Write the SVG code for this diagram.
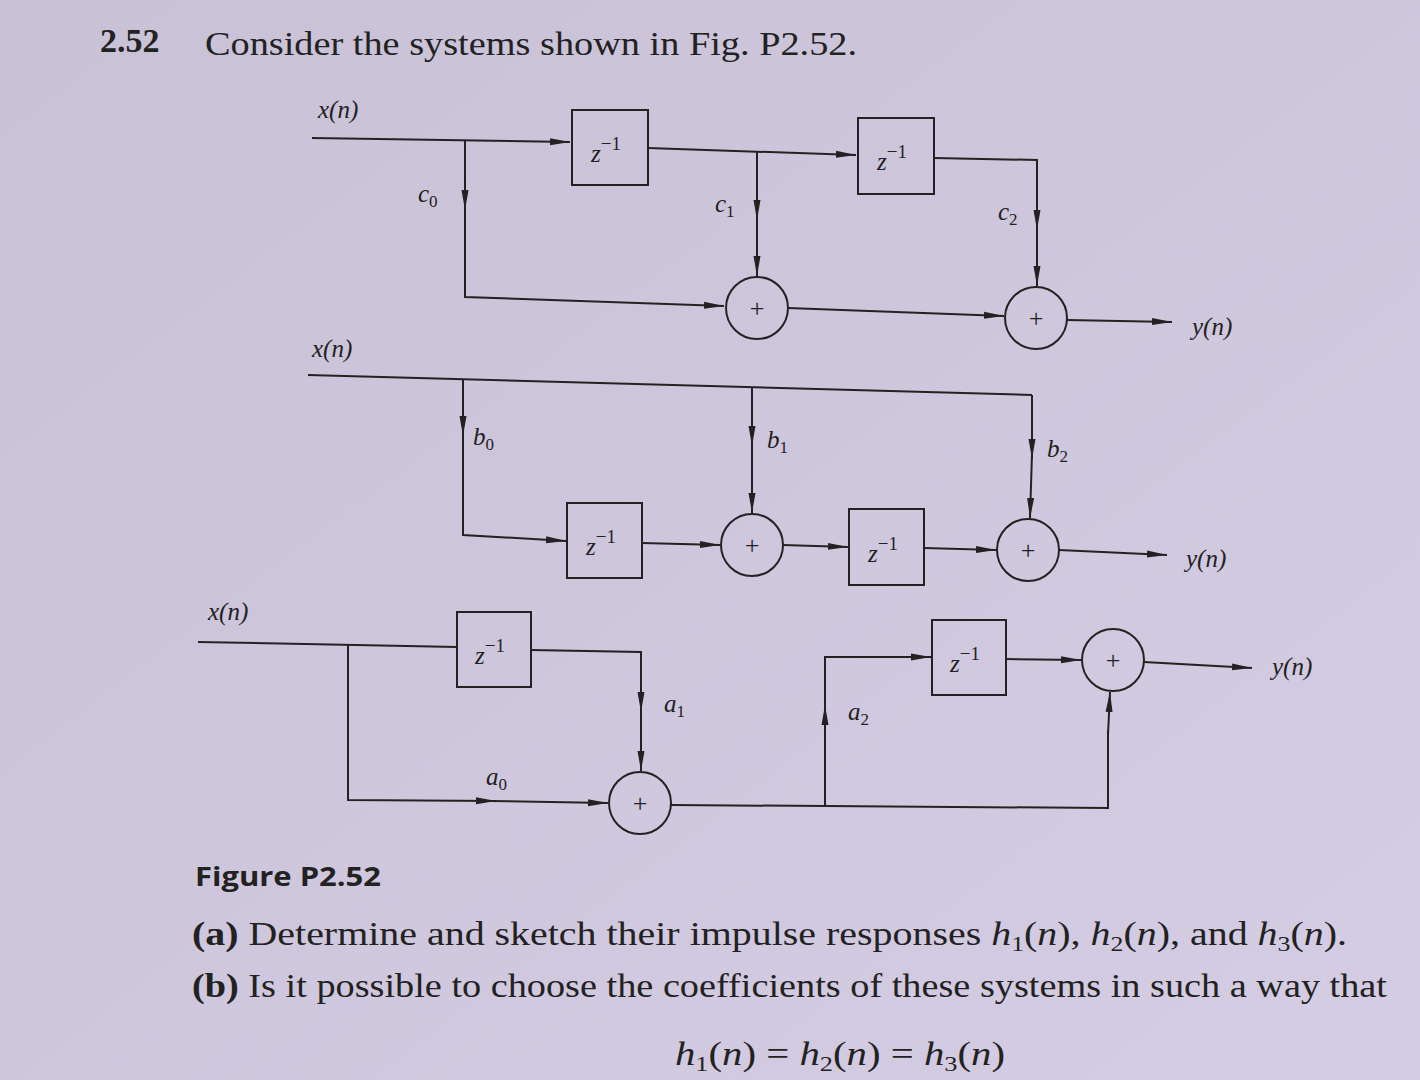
<svg xmlns="http://www.w3.org/2000/svg" width="1420" height="1080" viewBox="0 0 1420 1080">
<defs>
<marker id="a" viewBox="0 0 20 10" refX="20" refY="5" markerWidth="20" markerHeight="10" orient="auto" markerUnits="userSpaceOnUse"><path d="M0,1.5 L20,5 L0,8.5 z" fill="#222"/></marker>
<linearGradient id="bg" x1="0" y1="0" x2="1" y2="1"><stop offset="0" stop-color="#c9c1d6"/><stop offset="1" stop-color="#d4cde3"/></linearGradient>
</defs>
<style>
.l{fill:none;stroke:#222;stroke-width:2}
.b{fill:none;stroke:#222;stroke-width:2}
.t{font-family:"Liberation Serif",serif;font-style:italic;font-size:25px;fill:#222}
.s{font-family:"Liberation Serif",serif;font-size:26px;fill:#222}
.h{font-family:"Liberation Serif",serif;font-size:34px;fill:#222}
</style>
<rect width="1420" height="1080" fill="url(#bg)"/>
<text x="100" y="52" class="h" font-weight="bold">2.52</text>
<text x="205" y="55" class="h" textLength="652" lengthAdjust="spacingAndGlyphs">Consider the systems shown in Fig. P2.52.</text>
<g id="connectors">
<path class="l" d="M312,138 L570,142" marker-end="url(#a)"/>
<path class="l" d="M465,140 L465,210" marker-end="url(#a)"/>
<path class="l" d="M465,205 L465,297 L724,306" marker-end="url(#a)"/>
<path class="l" d="M648,148 L856,155" marker-end="url(#a)"/>
<path class="l" d="M757,151 L757,220" marker-end="url(#a)"/>
<path class="l" d="M757,215 L757,276" marker-end="url(#a)"/>
<path class="l" d="M934,158 L1037,160 L1037,230" marker-end="url(#a)"/>
<path class="l" d="M1037,225 L1037,286" marker-end="url(#a)"/>
<path class="l" d="M788,308 L1004,316" marker-end="url(#a)"/>
<path class="l" d="M1067,320 L1172,322" marker-end="url(#a)"/>
<path class="l" d="M308,375 L1032,395"/>
<path class="l" d="M463,380 L463,436" marker-end="url(#a)"/>
<path class="l" d="M463,430 L463,535 L566,541" marker-end="url(#a)"/>
<path class="l" d="M642,543 L720,545" marker-end="url(#a)"/>
<path class="l" d="M752,388 L752,446" marker-end="url(#a)"/>
<path class="l" d="M752,440 L752,513" marker-end="url(#a)"/>
<path class="l" d="M783,545 L848,547" marker-end="url(#a)"/>
<path class="l" d="M924,548 L996,550" marker-end="url(#a)"/>
<path class="l" d="M1032,395 L1032,459" marker-end="url(#a)"/>
<path class="l" d="M1032,453 L1030,518" marker-end="url(#a)"/>
<path class="l" d="M1059,550 L1167,555" marker-end="url(#a)"/>
<path class="l" d="M198,642 L457,647"/>
<path class="l" d="M531,650 L641,652 L641,712" marker-end="url(#a)"/>
<path class="l" d="M641,705 L641,771" marker-end="url(#a)"/>
<path class="l" d="M348,645 L348,800 L496,801" marker-end="url(#a)"/>
<path class="l" d="M490,801 L608,803" marker-end="url(#a)"/>
<path class="l" d="M671,805 L1108,808 L1108,730"/>
<path class="l" d="M1108,735 L1110,692" marker-end="url(#a)"/>
<path class="l" d="M825,806 L825,705" marker-end="url(#a)"/>
<path class="l" d="M825,712 L825,657 L931,657" marker-end="url(#a)"/>
<path class="l" d="M1006,659 L1081,660" marker-end="url(#a)"/>
<path class="l" d="M1144,662 L1252,668" marker-end="url(#a)"/>
</g>
<g id="d1">
<g id="z1"><rect class="b" x="572" y="110" width="76" height="75"/><text x="591" y="162" class="t">z<tspan dy="-12" font-size="19" font-style="normal">−1</tspan></text></g>
<g id="z2"><rect class="b" x="858" y="118" width="76" height="76"/><text x="877" y="170" class="t">z<tspan dy="-12" font-size="19" font-style="normal">−1</tspan></text></g>
<g id="s1"><circle class="b" cx="757" cy="308" r="31"/><text x="757" y="317" class="s" text-anchor="middle">+</text></g>
<g id="s2"><circle class="b" cx="1036" cy="318" r="31"/><text x="1036" y="327" class="s" text-anchor="middle">+</text></g>
<text x="318" y="118" class="t">x(n)</text>
<text x="418" y="202" class="t">c<tspan font-size="17" dy="5" font-style="normal">0</tspan></text>
<text x="715" y="212" class="t">c<tspan font-size="17" dy="5" font-style="normal">1</tspan></text>
<text x="998" y="220" class="t">c<tspan font-size="17" dy="5" font-style="normal">2</tspan></text>
<text x="1192" y="335" class="t">y(n)</text>
</g>
<g id="d2">
<g id="z3"><rect class="b" x="567" y="503" width="75" height="75"/><text x="586" y="555" class="t">z<tspan dy="-12" font-size="19" font-style="normal">−1</tspan></text></g>
<g id="z4"><rect class="b" x="849" y="509" width="75" height="76"/><text x="868" y="562" class="t">z<tspan dy="-12" font-size="19" font-style="normal">−1</tspan></text></g>
<g id="s3"><circle class="b" cx="752" cy="545" r="31"/><text x="752" y="554" class="s" text-anchor="middle">+</text></g>
<g id="s4"><circle class="b" cx="1028" cy="550" r="31"/><text x="1028" y="559" class="s" text-anchor="middle">+</text></g>
<text x="312" y="357" class="t">x(n)</text>
<text x="473" y="445" class="t">b<tspan font-size="17" dy="5" font-style="normal">0</tspan></text>
<text x="767" y="448" class="t">b<tspan font-size="17" dy="5" font-style="normal">1</tspan></text>
<text x="1047" y="457" class="t">b<tspan font-size="17" dy="5" font-style="normal">2</tspan></text>
<text x="1186" y="567" class="t">y(n)</text>
</g>
<g id="d3">
<g id="z5"><rect class="b" x="457" y="612" width="74" height="75"/><text x="475" y="664" class="t">z<tspan dy="-12" font-size="19" font-style="normal">−1</tspan></text></g>
<g id="z6"><rect class="b" x="932" y="620" width="74" height="75"/><text x="950" y="672" class="t">z<tspan dy="-12" font-size="19" font-style="normal">−1</tspan></text></g>
<g id="s5"><circle class="b" cx="640" cy="803" r="31"/><text x="640" y="812" class="s" text-anchor="middle">+</text></g>
<g id="s6"><circle class="b" cx="1113" cy="660" r="31"/><text x="1113" y="669" class="s" text-anchor="middle">+</text></g>
<text x="208" y="620" class="t">x(n)</text>
<text x="486" y="785" class="t">a<tspan font-size="17" dy="5" font-style="normal">0</tspan></text>
<text x="664" y="712" class="t">a<tspan font-size="17" dy="5" font-style="normal">1</tspan></text>
<text x="848" y="720" class="t">a<tspan font-size="17" dy="5" font-style="normal">2</tspan></text>
<text x="1272" y="675" class="t">y(n)</text>
</g>
<text x="195" y="886" font-family="'Open Sans','Noto Sans',sans-serif" font-weight="bold" font-size="27" fill="#222" textLength="186" lengthAdjust="spacingAndGlyphs">Figure P2.52</text>
<text x="192" y="945" class="h" textLength="1155" lengthAdjust="spacingAndGlyphs"><tspan font-weight="bold">(a)</tspan> Determine and sketch their impulse responses <tspan font-style="italic">h</tspan><tspan font-size="22" dy="6">1</tspan><tspan dy="-6">(</tspan><tspan font-style="italic">n</tspan>), <tspan font-style="italic">h</tspan><tspan font-size="22" dy="6">2</tspan><tspan dy="-6">(</tspan><tspan font-style="italic">n</tspan>), and <tspan font-style="italic">h</tspan><tspan font-size="22" dy="6">3</tspan><tspan dy="-6">(</tspan><tspan font-style="italic">n</tspan>).</text>
<text x="192" y="997" class="h" textLength="1195" lengthAdjust="spacingAndGlyphs"><tspan font-weight="bold">(b)</tspan> Is it possible to choose the coefficients of these systems in such a way that</text>
<text x="675" y="1065" class="h" textLength="330" lengthAdjust="spacingAndGlyphs"><tspan font-style="italic">h</tspan><tspan font-size="22" dy="6">1</tspan><tspan dy="-6">(</tspan><tspan font-style="italic">n</tspan>) = <tspan font-style="italic">h</tspan><tspan font-size="22" dy="6">2</tspan><tspan dy="-6">(</tspan><tspan font-style="italic">n</tspan>) = <tspan font-style="italic">h</tspan><tspan font-size="22" dy="6">3</tspan><tspan dy="-6">(</tspan><tspan font-style="italic">n</tspan>)</text>
</svg>
